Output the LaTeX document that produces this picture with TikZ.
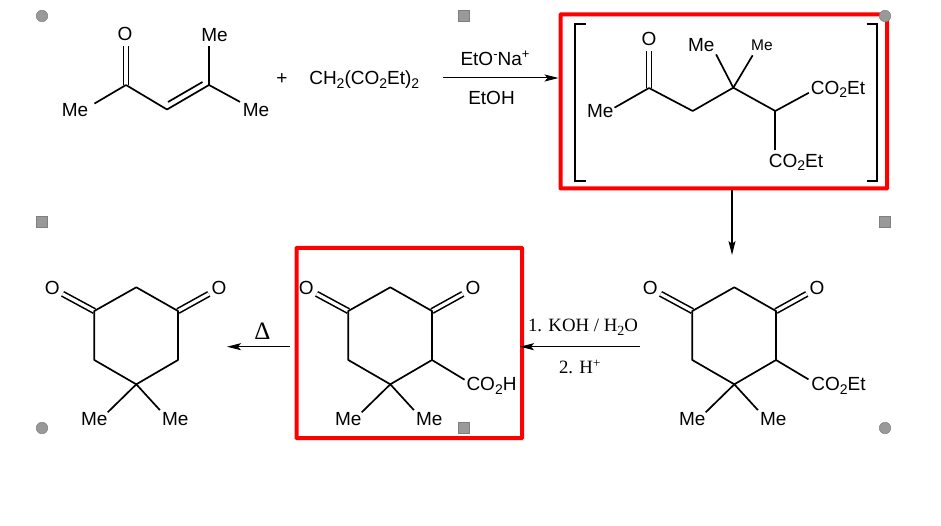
\documentclass[tikz,border=0pt]{standalone}
\usepackage{fontspec}
\setmainfont{Liberation Sans}
\newfontfamily\reagfont{Liberation Serif}
\usetikzlibrary{arrows.meta}
\newcommand{\subs}[1]{\raisebox{-3.5pt}{\fontsize{14}{14}\selectfont #1}}
\newcommand{\sups}[1]{\raisebox{6.5pt}{\fontsize{13}{13}\selectfont #1}}
\definecolor{handlegray}{RGB}{153,153,153}
\definecolor{handleline}{RGB}{128,128,128}
\tikzset{
    bond/.style={line width=1.7pt,line join=round},
    dbl/.style={line width=1.6pt,double,double distance=3.2pt},
    atom/.style={inner sep=0pt,text height=13pt,text depth=0pt,font=\fontsize{19}{19}\selectfont},
    smallatom/.style={inner sep=0pt,text height=11pt,text depth=0pt,font=\fontsize{15.5}{15.5}\selectfont},
    oatom/.style={atom,circle,minimum size=23pt},
    reag/.style={inner sep=0pt,text height=12pt,text depth=0pt,font=\fontsize{18.8}{18.8}\selectfont\reagfont},
    redbox/.style={draw=red,line width=4pt,rounded corners=0.5pt,inner sep=0pt},
    rxn/.style={line width=1pt,-{Stealth[length=14pt,width=7pt,inset=3pt]}},
    brk/.style={line width=1.7pt},
    handlec/.style={circle,draw=handleline,line width=0.5pt,fill=handlegray,inner sep=0pt,minimum size=11.5pt},
    handles/.style={rectangle,draw=handleline,line width=0.5pt,fill=handlegray,inner sep=0pt,minimum size=11pt}
}
\begin{document}
\begin{tikzpicture}[x=1pt,y=-1pt]
            \useasboundingbox (0,0) rectangle (941,526);
            \node[redbox,minimum width=326.5pt,minimum height=174pt] (intbox) at (723.75,101.5) {};
            \node[redbox,minimum width=225.5pt,minimum height=190pt] (acidbox) at (409.25,343) {};

            \coordinate (aca) at (126,85);
            \coordinate (acb) at (167,109.5);
            \coordinate (acc) at (209,85);
            \coordinate (acd) at (168,102);
            \coordinate (ace) at (202.5,82);
            \node[oatom] (ao) at (125,34) {O};
            \node[atom] (amel) at (75,110) {Me};
            \node[atom] (amet) at (214.5,35.5) {Me};
            \node[atom] (amer) at (256,110) {Me};
            \draw[dbl] (aca) -- (aca |- ao.south);
            \draw[bond] (acd) -- (ace);
            \draw[bond] (aca) -- (acb) -- (acc);
            \draw[bond,shorten >=7pt] (aca) -- (amel.12);
            \draw[bond,shorten >=4pt] (acc) -- (acc |- amet.south);
            \draw[bond,shorten >=3pt] (acc) -- (amer.north west);

            \node[atom] (plus) at (282,78.5) {+};
            \node[atom] (malonate) at (364.25,78.5) {CH\subs{2}(CO\subs{2}Et)\subs{2}};
            \node[atom] (base) at (495,59) {EtO\sups{-}Na\sups{+}};
            \node[atom] (solvent) at (491.5,98) {EtOH};
            \coordinate (firststart) at (443,78);
            \draw[rxn] (firststart) -- (firststart -| intbox.west);

            \draw[brk] (585.7,24) -- (575,24) -- (575,181) -- (585.7,181);
            \draw[brk] (866.7,24) -- (877.3,24) -- (877.3,181) -- (866.7,181);
            \coordinate (bca) at (649,88);
            \coordinate (bcb) at (692.7,111);
            \coordinate (bcc) at (733.3,87.7);
            \coordinate (bcd) at (775.3,111);
            \node[oatom] (bo) at (649,39.3) {O};
            \node[atom] (bmel) at (600.3,111) {Me};
            \node[atom] (bmea) at (701.3,45) {Me};
            \node[smallatom] (bmeb) at (762,45) {Me};
            \node[atom] (besta) at (837.9,88) {CO\subs{2}Et};
            \node[atom] (bestb) at (796,161) {CO\subs{2}Et};
            \draw[dbl] (bca) -- (bo);
            \draw[bond] (bca) -- (bcb) -- (bcc) -- (bcd);
            \draw[bond,shorten >=1pt] (bca) -- (bmel.12);
            \draw[bond,shorten >=3pt] (bcc) -- (bmea.south east);
            \draw[bond,shorten >=5.4pt] (bcc) -- (bmeb.221);
            \draw[bond,shorten >=2pt] (bcd) -- (besta.188);
            \draw[bond,shorten >=4.5pt] (bcd) -- (bcd |- bestb.north);

            \coordinate (downend) at (732,255);
            \draw[rxn,line width=1.5pt] (downend |- intbox.south) -- (downend);

            \begin{scope}[name prefix=ester-]
                \coordinate (top) at (734.3,287.3);
                \coordinate (ul) at (692.3,311);
                \coordinate (ll) at (692.3,360);
                \coordinate (bot) at (734.3,384.3);
                \coordinate (lr) at (776,360);
                \coordinate (ur) at (776,311);
                \node[oatom] (ol) at (650.3,288.3) {O};
                \node[oatom] (or) at (817,288.3) {O};
                \node[atom] (mel) at (692.3,419) {Me};
                \node[atom] (mer) at (773.3,419) {Me};
                \node[atom] (est) at (838.4,384.3) {CO\subs{2}Et};
                \draw[dbl] (ul) -- (ol);
                \draw[dbl] (ur) -- (or);
                \draw[bond] (top) -- (ul) -- (ll) -- (bot) -- (lr) -- (ur) -- cycle;
                \draw[bond] (bot) -- (mel.north east);
                \draw[bond,shorten >=3pt] (bot) -- (mer.north west);
                \draw[bond,shorten >=3pt] (lr) -- (est.173);
            \end{scope}

            \coordinate (hydstart) at (640,346.7);
            \coordinate (hydend) at (520,346.7);
            \draw[rxn] (hydstart) -- (hydend);
            \node[reag] (hydone) at (583,325.5) {1. KOH / H\subs{2}O};
            \node[reag] (hydtwo) at (579.7,367.5) {2. H\sups{+}};

            \begin{scope}[shift={(-344,0)},name prefix=acid-]
                \coordinate (top) at (734.3,287.3);
                \coordinate (ul) at (692.3,311);
                \coordinate (ll) at (692.3,360);
                \coordinate (bot) at (734.3,384.3);
                \coordinate (lr) at (776,360);
                \coordinate (ur) at (776,311);
                \node[oatom] (ol) at (650.3,288.3) {O};
                \node[oatom] (or) at (817,288.3) {O};
                \node[atom] (mel) at (692.3,419) {Me};
                \node[atom] (mer) at (773.3,419) {Me};
                \node[atom] (cooh) at (835.5,384.3) {CO\subs{2}H};
                \draw[dbl] (ul) -- (ol);
                \draw[dbl] (ur) -- (or);
                \draw[bond] (top) -- (ul) -- (ll) -- (bot) -- (lr) -- (ur) -- cycle;
                \draw[bond] (bot) -- (mel.north east);
                \draw[bond,shorten >=3pt] (bot) -- (mer.north west);
                \draw[bond,shorten >=2pt] (lr) -- (cooh.172);
            \end{scope}

            \coordinate (heatstart) at (290,346.7);
            \coordinate (heatend) at (227,346.7);
            \draw[rxn] (heatstart) -- (heatend);
            \node[inner sep=0pt,font=\fontsize{25}{25}\selectfont\reagfont] (heat) at (262.5,331) {Δ};

            \begin{scope}[shift={(-598,0)},name prefix=dione-]
                \coordinate (top) at (734.3,287.3);
                \coordinate (ul) at (692.3,311);
                \coordinate (ll) at (692.3,360);
                \coordinate (bot) at (734.3,384.3);
                \coordinate (lr) at (776,360);
                \coordinate (ur) at (776,311);
                \node[oatom] (ol) at (650.3,288.3) {O};
                \node[oatom] (or) at (817,288.3) {O};
                \node[atom] (mel) at (692.3,419) {Me};
                \node[atom] (mer) at (773.3,419) {Me};
                \draw[dbl] (ul) -- (ol);
                \draw[dbl] (ur) -- (or);
                \draw[bond] (top) -- (ul) -- (ll) -- (bot) -- (lr) -- (ur) -- cycle;
                \draw[bond] (bot) -- (mel.north east);
                \draw[bond,shorten >=3pt] (bot) -- (mer.north west);
            \end{scope}

            \node[handlec] (hnw) at (42,16) {};
            \node[handles] (hn) at (464,16) {};
            \node[handlec] (hne) at (885,16) {};
            \node[handles] (hw) at (42,222) {};
            \node[handles] (he) at (885,222) {};
            \node[handlec] (hsw) at (42,428) {};
            \node[handles] (hs) at (464,428) {};
            \node[handlec] (hse) at (885,428) {};
\end{tikzpicture}
\end{document}
